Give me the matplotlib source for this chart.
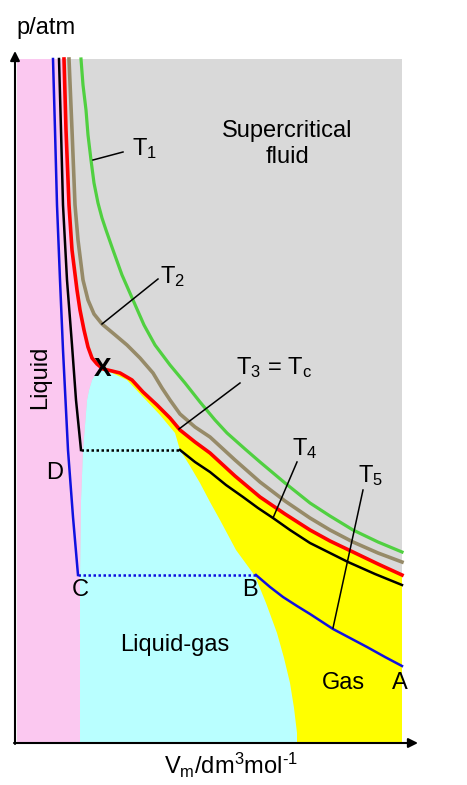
import matplotlib
matplotlib.use("Agg")
import matplotlib.pyplot as plt

plt.rcParams['font.family'] = ['Liberation Sans', 'DejaVu Sans']
plt.rcParams['mathtext.fontset'] = 'custom'
plt.rcParams['mathtext.rm'] = 'Liberation Sans'
plt.rcParams['mathtext.it'] = 'Liberation Sans:italic'

# isotermas (unidades arbitrarias de V y p)
t1_v = [66, 68, 71, 73, 76, 79, 83, 87, 91, 98, 107, 118, 129, 140, 155, 170, 185, 200, 212, 230, 245, 270, 295, 315, 338, 363, 387]
t1_p = [684, 658, 633, 608, 583, 560, 540, 525, 513, 493, 468, 443, 418, 398, 378, 360, 341, 323, 310, 294, 281, 260, 240, 227, 213, 201, 191]

t2_v = [54, 57, 60, 63, 68, 73, 79, 87, 99, 112, 125, 138, 147, 155, 165, 180, 195, 220, 245, 270, 295, 315, 338, 363, 387]
t2_p = [684, 613, 538, 503, 463, 443, 429, 419, 409, 398, 385, 370, 355, 343, 329, 316, 306, 283, 261, 242, 225, 213, 201, 190, 181]

t3_v = [49, 51, 54, 57, 62, 65, 69, 73, 77, 82, 88, 97, 105, 117, 128, 142, 155, 165, 180, 195, 220, 245, 270, 295, 315, 338, 363, 387]
t3_p = [684, 613, 538, 493, 453, 433, 413, 396, 385, 379, 374, 372, 370, 363, 351, 338, 325, 313, 301, 290, 267, 246, 229, 213, 202, 191, 179, 168]

t4_liq_v = [44, 46, 48, 52, 57, 61, 66]
t4_liq_p = [684, 613, 538, 463, 398, 343, 293]
t4_gas_v = [165, 180, 195, 211, 228, 243, 258, 275, 295, 315, 333, 360, 387]
t4_gas_p = [293, 281, 271, 258, 246, 235, 225, 213, 200, 190, 181, 169, 158]

t5_liq_v = [38, 40, 42, 45, 48, 51, 53, 58, 63]
t5_liq_p = [684, 613, 538, 463, 393, 333, 293, 226, 168]
t5_gas_v = [241, 255, 268, 282, 295, 318, 335, 352, 370, 387]
t5_gas_p = [168, 156, 146, 137, 129, 114, 105, 96, 86, 77]

# campana liquido-gas
dome_left_v = [88, 82, 77, 74, 72, 70, 68, 66, 65, 65]
dome_left_p = [374, 371, 363, 353, 343, 318, 293, 243, 168, 0]
dome_right_v = [88, 95, 112, 128, 145, 160, 165, 175, 185, 195, 205, 221, 240, 251, 262, 269, 275, 279, 282, 282]
dome_right_p = [374, 371, 363, 346, 328, 310, 293, 277, 260, 241, 223, 193, 167, 140, 110, 85, 60, 35, 10, 0]

v_max, p_max = 387, 684

fig = plt.figure(figsize=(4.67, 7.85), dpi=100)
ax = fig.add_axes([0, 0, 1, 1])
ax.set_xlim(-15, 452)
ax.set_ylim(-42, 743)
ax.axis('off')

# regiones de fondo
ax.fill([2, v_max, v_max, 2], [0, 0, p_max, p_max], color='#D9D9D9', lw=0)
i_x = 10  # indice del punto critico en t3
ax.fill(t3_v[i_x:] + [v_max, t3_v[i_x]], t3_p[i_x:] + [0, 0], color='#FFFF00', lw=0)
ax.fill(dome_left_v[::-1] + dome_right_v, dome_left_p[::-1] + dome_right_p, color='#B9FFFF', lw=0)
ax.fill([2] + t3_v[:i_x + 1] + dome_left_v + [2],
        [p_max] + t3_p[:i_x + 1] + dome_left_p + [0], color='#FBC8F0', lw=0)

# isotermas
ax.plot(t1_v, t1_p, color='#50D040', lw=2.3, solid_joinstyle='round')
ax.plot(t2_v, t2_p, color='#968A68', lw=2.6, solid_joinstyle='round')
ax.plot(t4_liq_v, t4_liq_p, color='black', lw=1.8, solid_joinstyle='round')
ax.plot(t4_gas_v, t4_gas_p, color='black', lw=1.8, solid_joinstyle='round')
ax.plot([t4_liq_v[-1], t4_gas_v[0]], [t4_liq_p[-1], t4_gas_p[0]], color='black', lw=1.8, ls=(0, (1, 1)))
ax.plot(t3_v, t3_p, color='#FF0000', lw=2.6, solid_joinstyle='round')
ax.plot(t5_liq_v, t5_liq_p, color='#1010E0', lw=1.8, solid_joinstyle='round')
ax.plot(t5_gas_v, t5_gas_p, color='#1010E0', lw=1.8, solid_joinstyle='round')
ax.plot([t5_liq_v[-1], t5_gas_v[0]], [t5_liq_p[-1], t5_gas_p[0]], color='#1010E0', lw=1.8, ls=(0, (1, 1)))

# ejes con flecha
ax.annotate('', xy=(0, 692), xytext=(0, -1),
            arrowprops=dict(arrowstyle='-|>', lw=1.5, color='black', mutation_scale=14, shrinkA=0, shrinkB=0))
ax.annotate('', xy=(403, 0), xytext=(-1, 0),
            arrowprops=dict(arrowstyle='-|>', lw=1.5, color='black', mutation_scale=14, shrinkA=0, shrinkB=0))

fs = 17
ax.text(31, 715, 'p/atm', fontsize=fs, ha='center', va='center')
ax.text(216, -22, 'V$_{\\mathrm{m}}$/dm$^{3}$mol$^{\\text{-1}}$', fontsize=fs, ha='center', va='center')
ax.text(272, 599, 'Supercritical\nfluid', fontsize=fs, ha='center', va='center', linespacing=1.2)
ax.text(25, 366, 'Liquid', fontsize=fs, ha='center', va='center', rotation=90)
ax.text(160, 98, 'Liquid-gas', fontsize=fs, ha='center', va='center')
ax.text(328, 60, 'Gas', fontsize=fs, ha='center', va='center')
ax.text(88, 374, 'X', fontsize=19, fontweight='bold', ha='center', va='center')
for letra, v, p in [('D', 40, 270), ('C', 65, 153), ('B', 235, 153), ('A', 385, 60)]:
    ax.text(v, p, letra, fontsize=fs, ha='center', va='center')

# etiquetas de las isotermas con su linea guia
etiquetas = [
    ('T$_{1}$', 117, 588, (78, 583), (108, 591)),
    ('T$_{2}$', 145, 460, (87, 419), (143, 464)),
    ('T$_{3}$ = T$_{\\mathrm{c}}$', 221, 369, (164, 314), (225, 360)),
    ('T$_{4}$', 277, 288, (258, 225), (282, 281)),
    ('T$_{5}$', 343, 261, (318, 115), (348, 253)),
]
for texto, v, p, a, b in etiquetas:
    ax.text(v, p, texto, fontsize=fs, ha='left', va='baseline')
    ax.plot([a[0], b[0]], [a[1], b[1]], color='black', lw=1.1)

fig.savefig('out.png', dpi=100)
